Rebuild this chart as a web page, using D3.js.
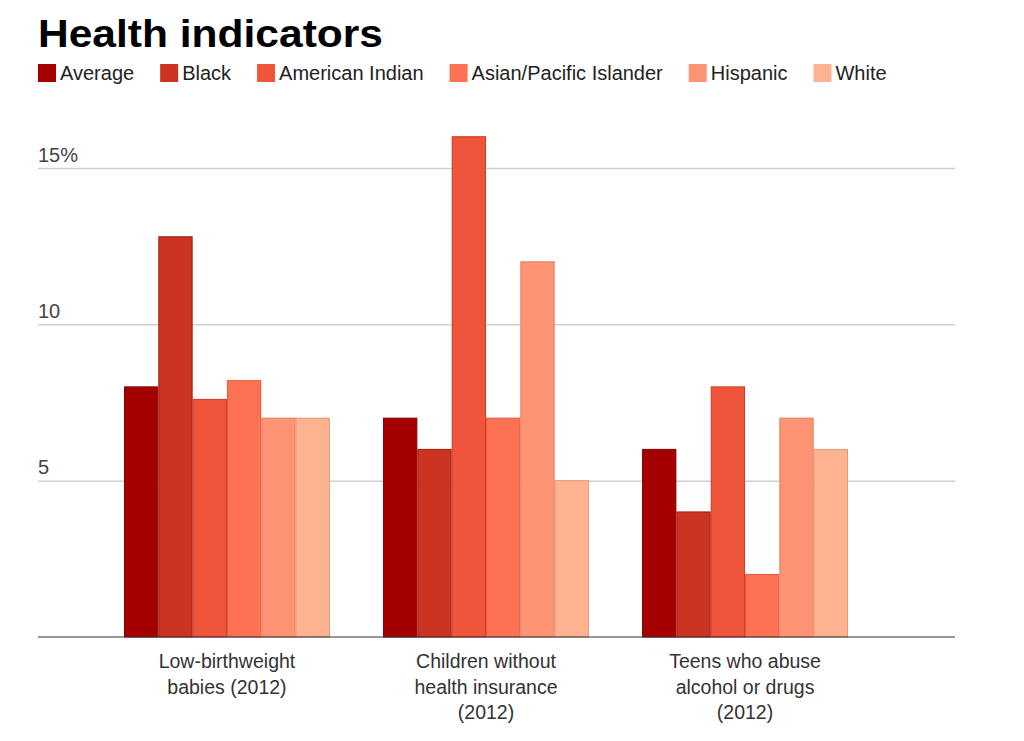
<!DOCTYPE html>
<html>
<head>
<meta charset="utf-8">
<script src="https://cdn.jsdelivr.net/npm/d3@7"></script>
<style>
  body { margin: 0; background: #fff; }
  text { font-family: "Liberation Sans", Arial, sans-serif; }
</style>
</head>
<body>
<svg id="chart"></svg>
<script>
// data
const categories = [
    ["Low-birthweight", "babies (2012)"],
    ["Children without", "health insurance", "(2012)"],
    ["Teens who abuse", "alcohol or drugs", "(2012)"]
];
const seriesNames = ["Average", "Black", "American Indian", "Asian/Pacific Islander", "Hispanic", "White"];
const seriesColors = ["#a50000", "#cb3421", "#ee553b", "#fe7152", "#fe9473", "#feb390"];
const seriesStrokes = ["#8a0000", "#a8190c", "#cf3a24", "#e45b3f", "#e47d5f", "#e49a78"];
const average = [8, 7, 6];
const black = [12.8, 6, 4];
const americanIndian = [7.6, 16, 8];
const asianPacific = [8.2, 7, 2];
const hispanic = [7, 12, 7];
const white = [7, 5, 6];
const tickValues = [5, 10, 15];
const tickLabels = ["5", "10", "15%"];

const seriesValues = [average, black, americanIndian, asianPacific, hispanic, white];

const width = 1024, height = 741;
const svg = d3.select('#chart')
    .attr('width', width)
    .attr('height', height);

// title
svg.append('text')
    .attr('x', 38)
    .attr('y', 47)
    .attr('font-size', 38)
    .attr('font-weight', 'bold')
    .attr('fill', '#000')
    .attr('textLength', 345)
    .attr('lengthAdjust', 'spacingAndGlyphs')
    .text('Health indicators');

// legend
const legend = svg.append('g').attr('transform', 'translate(38, 64)');
let lx = 0;
seriesNames.forEach((name, i) => {
    const item = legend.append('g').attr('transform', `translate(${lx}, 0)`);
    item.append('rect')
        .attr('width', 18).attr('height', 18)
        .attr('fill', seriesColors[i]);
    const t = item.append('text')
        .attr('x', 22).attr('y', 16)
        .attr('font-size', 20)
        .attr('fill', '#222')
        .text(name);
    lx += 22 + t.node().getComputedTextLength() + 26;
});

// scales
const gridLeft = 38, gridRight = 955;
const y = d3.scaleLinear().domain([0, 15]).range([637, 168]);

const x0 = d3.scaleBand()
    .domain(d3.range(categories.length))
    .range([124, 848])
    .paddingInner(0.205)
    .paddingOuter(0);

const x1 = d3.scaleBand()
    .domain(d3.range(seriesNames.length))
    .range([0, x0.bandwidth()]);

// grid lines + tick labels
const yAxis = d3.axisLeft(y)
    .tickValues(tickValues)
    .tickSize(-(gridRight - gridLeft))
    .tickFormat((d, i) => tickLabels[i]);

const yAxisGroup = svg.append('g')
    .attr('transform', `translate(${gridLeft}, 0)`)
    .call(yAxis);
yAxisGroup.select('.domain').remove();
yAxisGroup.selectAll('.tick line').attr('stroke', '#d0d0d0').attr('stroke-width', 1.5);
yAxisGroup.selectAll('.tick text')
    .attr('x', 0)
    .attr('y', -7)
    .attr('dy', 0)
    .attr('text-anchor', 'start')
    .attr('font-size', 20)
    .attr('font-family', '"Liberation Sans", Arial, sans-serif')
    .attr('fill', '#444');

// bars
const groups = svg.append('g').selectAll('g')
    .data(categories)
    .enter()
    .append('g')
    .attr('transform', (d, i) => `translate(${x0(i)}, 0)`);

groups.selectAll('rect')
    .data((d, ci) => seriesValues.map((vals, si) => ({ s: si, v: vals[ci] })))
    .enter()
    .append('rect')
    .attr('x', d => x1(d.s) + 0.5)
    .attr('y', d => y(d.v))
    .attr('width', x1.bandwidth() - 1)
    .attr('height', d => y(0) - y(d.v))
    .attr('fill', d => seriesColors[d.s])
    .attr('stroke', d => seriesStrokes[d.s])
    .attr('stroke-width', 1);

// baseline
svg.append('line')
    .attr('x1', gridLeft).attr('x2', gridRight)
    .attr('y1', y(0)).attr('y2', y(0))
    .attr('stroke', '#333').attr('stroke-width', 1.2);

// category labels
const catLabels = svg.append('g').selectAll('text')
    .data(categories)
    .enter()
    .append('text')
    .attr('x', (d, i) => x0(i) + x0.bandwidth() / 2)
    .attr('y', 668)
    .attr('text-anchor', 'middle')
    .attr('font-size', 19.5)
    .attr('fill', '#333');

catLabels.selectAll('tspan')
    .data(d => d)
    .enter()
    .append('tspan')
    .attr('x', function () { return d3.select(this.parentNode).attr('x'); })
    .attr('dy', (d, i) => i === 0 ? 0 : 25.5)
    .text(d => d);
</script>
</body>
</html>
